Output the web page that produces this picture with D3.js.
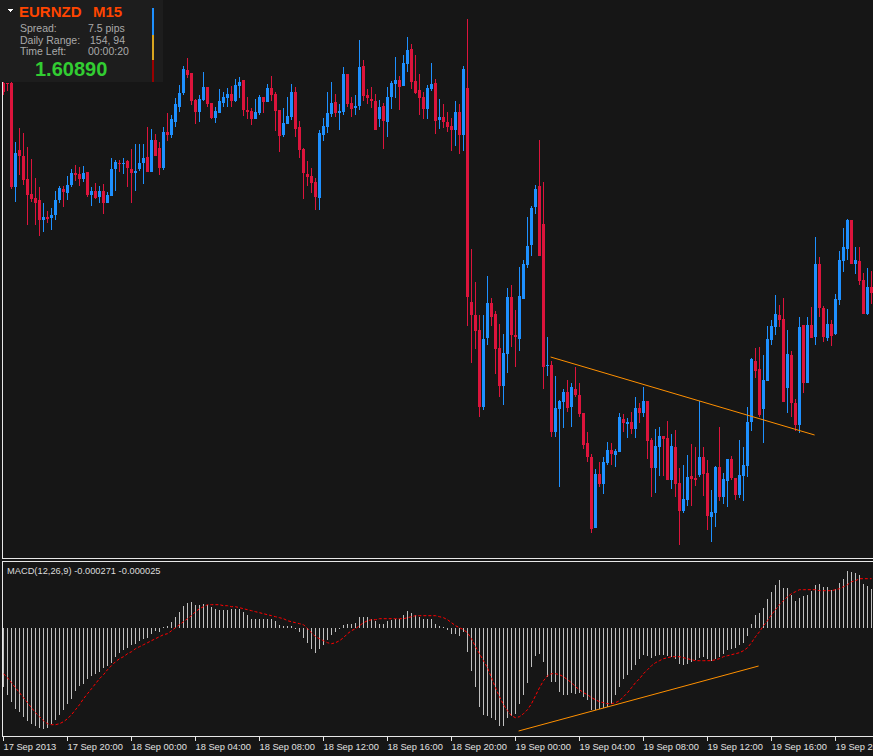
<!DOCTYPE html>
<html><head><meta charset="utf-8">
<script src="https://cdn.jsdelivr.net/npm/d3@7"></script>
<style>html,body{margin:0;padding:0;background:#161616;overflow:hidden}</style>
</head><body>
<svg id="chart" width="873" height="756"></svg>
<script>
const openP = [1.61730,1.61730,1.61730,1.61314,1.61462,1.61438,1.61346,1.61286,1.61270,1.61262,
1.61182,1.61194,1.61190,1.61202,1.61262,1.61306,1.61290,1.61322,1.61370,1.61366,
1.61346,1.61374,1.61282,1.61298,1.61274,1.61298,1.61250,1.61278,1.61386,1.61410,
1.61406,1.61418,1.61386,1.61370,1.61386,1.61410,1.61434,1.61374,1.61502,1.61470,
1.61390,1.61534,1.61522,1.61574,1.61634,1.61690,1.61782,1.61770,1.61662,1.61614,
1.61662,1.61714,1.61650,1.61590,1.61610,1.61650,1.61670,1.61686,1.61658,1.61718,
1.61742,1.61622,1.61618,1.61586,1.61610,1.61674,1.61654,1.61710,1.61686,1.61622,
1.61522,1.61566,1.61594,1.61694,1.61554,1.61466,1.61366,1.61358,1.61334,1.61270,
1.61522,1.61554,1.61606,1.61654,1.61610,1.61614,1.61766,1.61650,1.61630,1.61638,
1.61798,1.61682,1.61666,1.61658,1.61586,1.61638,1.61574,1.61674,1.61726,1.61742,
1.61718,1.61806,1.61866,1.61738,1.61702,1.61674,1.61626,1.61706,1.61730,1.61582,
1.61594,1.61574,1.61558,1.61542,1.61614,1.61522,1.61710,1.60854,1.60802,1.60742,
1.60434,1.60710,1.60850,1.60806,1.60670,1.60518,1.60646,1.60874,1.60722,1.60706,
1.60866,1.61002,1.61082,1.61234,1.61318,1.61166,1.60598,1.60602,1.60334,1.60426,
1.60454,1.60494,1.60434,1.60506,1.60482,1.60410,1.60290,1.60234,1.59950,1.60166,
1.60126,1.60210,1.60262,1.60242,1.60254,1.60386,1.60366,1.60374,1.60346,1.60430,
1.60410,1.60458,1.60302,1.60190,1.60274,1.60318,1.60310,1.60142,1.60274,1.60130,
1.60018,1.60062,1.60158,1.60150,1.60162,1.60234,1.60170,1.59994,1.60010,1.60194,
1.60074,1.60138,1.60226,1.60150,1.60082,1.60158,1.60198,1.60374,1.60618,1.60586,
1.60426,1.60538,1.60702,1.60754,1.60802,1.60786,1.60510,1.60642,1.60450,1.60362,
1.60762,1.60530,1.60762,1.60714,1.61006,1.60830,1.60710,1.60766,1.60726,1.60862,
1.61018,1.61066,1.61182,1.61006,1.61018,1.60942,1.60806,1.60914];
const highP = [1.61750,1.61730,1.61734,1.61494,1.61550,1.61530,1.61474,1.61426,1.61350,1.61314,
1.61250,1.61218,1.61230,1.61298,1.61318,1.61318,1.61358,1.61386,1.61402,1.61394,
1.61398,1.61374,1.61314,1.61330,1.61318,1.61326,1.61294,1.61430,1.61422,1.61422,
1.61430,1.61422,1.61466,1.61486,1.61486,1.61486,1.61554,1.61546,1.61526,1.61494,
1.61554,1.61610,1.61602,1.61670,1.61722,1.61798,1.61830,1.61770,1.61666,1.61682,
1.61774,1.61714,1.61650,1.61634,1.61706,1.61694,1.61710,1.61718,1.61746,1.61754,
1.61742,1.61674,1.61630,1.61666,1.61682,1.61674,1.61726,1.61758,1.61694,1.61622,
1.61630,1.61674,1.61726,1.61714,1.61578,1.61470,1.61418,1.61390,1.61350,1.61542,
1.61590,1.61694,1.61734,1.61686,1.61646,1.61794,1.61766,1.61674,1.61682,1.61902,
1.61822,1.61706,1.61714,1.61686,1.61662,1.61650,1.61714,1.61738,1.61834,1.61758,
1.61842,1.61914,1.61886,1.61842,1.61766,1.61694,1.61722,1.61810,1.61746,1.61666,
1.61646,1.61614,1.61590,1.61658,1.61646,1.61798,1.61986,1.61066,1.60934,1.60802,
1.60802,1.60958,1.60870,1.60818,1.60766,1.60726,1.60910,1.60922,1.60822,1.60994,
1.61022,1.61194,1.61238,1.61322,1.61502,1.61334,1.60714,1.60618,1.60558,1.60462,
1.60506,1.60542,1.60530,1.60594,1.60530,1.60410,1.60334,1.60246,1.60186,1.60214,
1.60234,1.60294,1.60290,1.60266,1.60410,1.60406,1.60390,1.60414,1.60474,1.60450,
1.60514,1.60458,1.60310,1.60346,1.60354,1.60318,1.60378,1.60326,1.60342,1.60190,
1.60202,1.60242,1.60286,1.60274,1.60458,1.60274,1.60222,1.60102,1.60198,1.60354,
1.60170,1.60226,1.60238,1.60150,1.60302,1.60274,1.60434,1.60630,1.60670,1.60674,
1.60642,1.60758,1.60782,1.60882,1.60842,1.60870,1.60742,1.60658,1.60466,1.60794,
1.60762,1.60794,1.60834,1.61114,1.61034,1.60838,1.60826,1.60782,1.60886,1.61058,
1.61150,1.61186,1.61182,1.61074,1.61074,1.60970,1.60990,1.60978];
const lowP = [1.61682,1.61698,1.61306,1.61254,1.61362,1.61322,1.61162,1.61254,1.61162,1.61118,
1.61134,1.61170,1.61142,1.61182,1.61250,1.61234,1.61262,1.61314,1.61338,1.61318,
1.61334,1.61274,1.61238,1.61266,1.61250,1.61206,1.61250,1.61278,1.61298,1.61374,
1.61366,1.61314,1.61250,1.61298,1.61378,1.61326,1.61374,1.61374,1.61438,1.61362,
1.61382,1.61498,1.61510,1.61554,1.61614,1.61682,1.61750,1.61642,1.61566,1.61574,
1.61658,1.61634,1.61586,1.61570,1.61610,1.61634,1.61634,1.61634,1.61654,1.61670,
1.61598,1.61586,1.61562,1.61586,1.61602,1.61610,1.61654,1.61658,1.61538,1.61454,
1.61514,1.61566,1.61582,1.61514,1.61430,1.61266,1.61318,1.61290,1.61222,1.61222,
1.61498,1.61530,1.61594,1.61594,1.61542,1.61602,1.61634,1.61594,1.61602,1.61622,
1.61658,1.61646,1.61630,1.61542,1.61554,1.61466,1.61514,1.61626,1.61670,1.61622,
1.61718,1.61774,1.61706,1.61686,1.61602,1.61586,1.61586,1.61698,1.61526,1.61546,
1.61550,1.61534,1.61458,1.61478,1.61446,1.61458,1.60758,1.60610,1.60666,1.60394,
1.60422,1.60682,1.60758,1.60566,1.60474,1.60442,1.60570,1.60674,1.60594,1.60658,
1.60866,1.60990,1.61038,1.61206,1.61038,1.60506,1.60558,1.60314,1.60314,1.60114,
1.60350,1.60414,1.60354,1.60474,1.60394,1.60266,1.60214,1.59930,1.59950,1.60114,
1.60086,1.60202,1.60202,1.60194,1.60254,1.60334,1.60310,1.60326,1.60310,1.60370,
1.60394,1.60226,1.60074,1.60090,1.60158,1.60158,1.60142,1.60106,1.60074,1.59882,
1.60010,1.60038,1.60038,1.60118,1.60154,1.60078,1.59942,1.59894,1.59954,1.60058,
1.60046,1.60034,1.60142,1.60062,1.60070,1.60058,1.60154,1.60338,1.60550,1.60394,
1.60290,1.60538,1.60682,1.60722,1.60754,1.60454,1.60410,1.60394,1.60338,1.60330,
1.60490,1.60530,1.60710,1.60682,1.60794,1.60694,1.60698,1.60678,1.60722,1.60842,
1.60974,1.61022,1.61006,1.60966,1.60922,1.60806,1.60802,1.60846];
const closeP = [1.61694,1.61726,1.61314,1.61450,1.61438,1.61342,1.61282,1.61266,1.61250,1.61182,
1.61194,1.61186,1.61202,1.61262,1.61310,1.61294,1.61322,1.61370,1.61362,1.61346,
1.61370,1.61282,1.61298,1.61270,1.61298,1.61250,1.61282,1.61386,1.61414,1.61406,
1.61410,1.61390,1.61370,1.61378,1.61410,1.61430,1.61374,1.61502,1.61438,1.61390,
1.61534,1.61522,1.61586,1.61646,1.61690,1.61786,1.61762,1.61658,1.61614,1.61666,
1.61714,1.61646,1.61590,1.61618,1.61658,1.61674,1.61686,1.61658,1.61722,1.61734,
1.61622,1.61614,1.61586,1.61614,1.61674,1.61654,1.61710,1.61682,1.61618,1.61518,
1.61570,1.61598,1.61694,1.61546,1.61462,1.61370,1.61354,1.61330,1.61274,1.61530,
1.61558,1.61610,1.61650,1.61610,1.61618,1.61766,1.61646,1.61626,1.61638,1.61794,
1.61678,1.61670,1.61658,1.61542,1.61634,1.61578,1.61674,1.61730,1.61742,1.61714,
1.61810,1.61862,1.61734,1.61690,1.61670,1.61626,1.61710,1.61726,1.61578,1.61594,
1.61574,1.61554,1.61542,1.61614,1.61522,1.61786,1.60874,1.60802,1.60738,1.60434,
1.60706,1.60850,1.60794,1.60666,1.60518,1.60650,1.60874,1.60722,1.60714,1.60878,
1.61006,1.61078,1.61230,1.61306,1.61038,1.60594,1.60602,1.60334,1.60430,1.60458,
1.60494,1.60430,1.60514,1.60482,1.60406,1.60282,1.60234,1.59946,1.60166,1.60126,
1.60214,1.60262,1.60246,1.60258,1.60394,1.60370,1.60374,1.60346,1.60430,1.60410,
1.60458,1.60298,1.60190,1.60278,1.60318,1.60306,1.60142,1.60278,1.60126,1.60018,
1.60066,1.60154,1.60146,1.60142,1.60234,1.60166,1.59998,1.60014,1.60194,1.60074,
1.60146,1.60226,1.60150,1.60082,1.60162,1.60202,1.60374,1.60626,1.60578,1.60402,
1.60542,1.60706,1.60758,1.60806,1.60782,1.60454,1.60646,1.60450,1.60362,1.60754,
1.60530,1.60762,1.60710,1.61006,1.60830,1.60714,1.60766,1.60718,1.60866,1.61022,
1.61074,1.61182,1.61006,1.61022,1.60938,1.60806,1.60914,1.60890];

const macdMain = [-0.00118,-0.00134,-0.00148,-0.00162,-0.00168,-0.00178,-0.00186,-0.00192,-0.00196,-0.00200,
-0.00202,-0.00200,-0.00192,-0.00184,-0.00174,-0.00164,-0.00152,-0.00142,-0.00126,-0.00116,
-0.00112,-0.00102,-0.00096,-0.00092,-0.00088,-0.00080,-0.00076,-0.00070,-0.00058,-0.00050,
-0.00044,-0.00040,-0.00034,-0.00032,-0.00026,-0.00022,-0.00020,-0.00012,-0.00006,-0.00008,
0.00002,0.00004,0.00012,0.00022,0.00032,0.00044,0.00050,0.00052,0.00046,0.00046,
0.00048,0.00046,0.00042,0.00038,0.00036,0.00036,0.00036,0.00038,0.00038,0.00038,
0.00032,0.00026,0.00018,0.00018,0.00018,0.00018,0.00018,0.00018,0.00014,0.00006,
0.00004,0.00004,0.00004,-0.00002,-0.00008,-0.00020,-0.00030,-0.00042,-0.00050,-0.00042,
-0.00034,-0.00024,-0.00014,-0.00008,-0.00002,0.00006,0.00008,0.00008,0.00010,0.00022,
0.00022,0.00022,0.00018,0.00014,0.00008,0.00008,0.00014,0.00016,0.00018,0.00018,
0.00026,0.00034,0.00030,0.00026,0.00022,0.00018,0.00018,0.00018,0.00008,0.00004,
0.00002,-0.00004,-0.00012,-0.00012,-0.00016,-0.00008,-0.00048,-0.00086,-0.00118,-0.00158,
-0.00174,-0.00176,-0.00180,-0.00184,-0.00196,-0.00196,-0.00180,-0.00176,-0.00172,-0.00152,
-0.00134,-0.00110,-0.00078,-0.00056,-0.00052,-0.00068,-0.00098,-0.00108,-0.00108,-0.00128,
-0.00134,-0.00134,-0.00130,-0.00132,-0.00130,-0.00138,-0.00144,-0.00164,-0.00164,-0.00162,
-0.00160,-0.00158,-0.00152,-0.00134,-0.00118,-0.00102,-0.00094,-0.00084,-0.00074,-0.00062,
-0.00054,-0.00056,-0.00060,-0.00056,-0.00054,-0.00054,-0.00056,-0.00058,-0.00062,-0.00072,
-0.00074,-0.00072,-0.00068,-0.00064,-0.00060,-0.00058,-0.00062,-0.00066,-0.00062,-0.00058,
-0.00052,-0.00044,-0.00042,-0.00040,-0.00034,-0.00030,-0.00016,0.00008,0.00026,0.00030,
0.00040,0.00058,0.00072,0.00086,0.00096,0.00080,0.00080,0.00066,0.00054,0.00060,
0.00064,0.00066,0.00074,0.00086,0.00088,0.00082,0.00082,0.00076,0.00078,0.00090,
0.00098,0.00114,0.00112,0.00110,0.00106,0.00088,0.00084,0.00078];
const macdSignal = [-0.00092,-0.00100,-0.00110,-0.00120,-0.00130,-0.00140,-0.00150,-0.00160,-0.00170,-0.00178,
-0.00186,-0.00192,-0.00194,-0.00194,-0.00192,-0.00188,-0.00182,-0.00174,-0.00164,-0.00154,
-0.00142,-0.00132,-0.00122,-0.00112,-0.00102,-0.00094,-0.00084,-0.00076,-0.00068,-0.00062,
-0.00058,-0.00052,-0.00048,-0.00042,-0.00038,-0.00034,-0.00030,-0.00026,-0.00022,-0.00018,
-0.00014,-0.00012,-0.00006,0.00000,0.00006,0.00012,0.00018,0.00024,0.00032,0.00038,
0.00042,0.00046,0.00046,0.00046,0.00046,0.00044,0.00044,0.00042,0.00042,0.00040,
0.00038,0.00036,0.00034,0.00032,0.00030,0.00028,0.00026,0.00024,0.00022,0.00020,
0.00018,0.00014,0.00012,0.00010,0.00008,0.00006,-0.00002,-0.00010,-0.00018,-0.00022,
-0.00026,-0.00030,-0.00032,-0.00030,-0.00026,-0.00020,-0.00012,-0.00006,-0.00002,0.00004,
0.00010,0.00014,0.00016,0.00016,0.00018,0.00018,0.00018,0.00018,0.00018,0.00018,
0.00018,0.00020,0.00022,0.00024,0.00024,0.00024,0.00024,0.00024,0.00024,0.00022,
0.00020,0.00016,0.00010,0.00004,0.00000,-0.00004,-0.00010,-0.00022,-0.00038,-0.00052,
-0.00066,-0.00080,-0.00100,-0.00120,-0.00138,-0.00154,-0.00166,-0.00176,-0.00180,-0.00178,
-0.00172,-0.00164,-0.00152,-0.00136,-0.00120,-0.00106,-0.00096,-0.00092,-0.00092,-0.00094,
-0.00098,-0.00104,-0.00110,-0.00118,-0.00124,-0.00130,-0.00134,-0.00140,-0.00144,-0.00148,
-0.00150,-0.00152,-0.00152,-0.00150,-0.00146,-0.00138,-0.00130,-0.00120,-0.00110,-0.00102,
-0.00092,-0.00084,-0.00076,-0.00070,-0.00066,-0.00062,-0.00060,-0.00058,-0.00058,-0.00058,
-0.00060,-0.00062,-0.00064,-0.00066,-0.00066,-0.00066,-0.00066,-0.00066,-0.00064,-0.00062,
-0.00058,-0.00056,-0.00054,-0.00052,-0.00050,-0.00046,-0.00040,-0.00030,-0.00018,-0.00008,
0.00004,0.00014,0.00026,0.00036,0.00046,0.00054,0.00062,0.00068,0.00072,0.00076,
0.00076,0.00076,0.00076,0.00076,0.00074,0.00074,0.00074,0.00074,0.00076,0.00078,
0.00082,0.00086,0.00092,0.00094,0.00098,0.00098,0.00098,0.00098];

const tickIndex = [0,16,32,48,64,80,96,112,128,144,160,176,192,208];
const tickLabels = ["17 Sep 2013","17 Sep 20:00","18 Sep 00:00","18 Sep 04:00","18 Sep 08:00",
  "18 Sep 12:00","18 Sep 16:00","18 Sep 20:00","19 Sep 00:00","19 Sep 04:00","19 Sep 08:00",
  "19 Sep 12:00","19 Sep 16:00","19 Sep 20:00"];
const priceTrend = [[136.9, 1.60634], [202.9, 1.60322]];
const macdTrend = [[128.9, -0.002066], [188.9, -0.000766]];
const symbolText = "EURNZD", periodText = "M15";
const infoLabels = ["Spread:", "Daily Range:", "Time Left:"];
const infoValues = ["7.5 pips", "154, 94", "00:00:20"];
const bidText = "1.60890";
const macdTitle = "MACD(12,26,9) -0.000271 -0.000025";

const W = 873, H = 756;
const BULL = "#1E90FF", BEAR = "#DC143C", BG = "#161616";
const FONT = "'Liberation Sans', Arial, sans-serif";
const n = openP.length;
const idx = d3.range(n);

const svg = d3.select("#chart").attr("shape-rendering", "crispEdges");
svg.append("rect").attr("width", W).attr("height", H).attr("fill", BG);

const x = d3.scaleLinear().domain([0, n - 1]).range([3, 3 + 4 * (n - 1)]);
const y = d3.scaleLinear().domain([1.59826, 1.62062]).range([559, 0]);
const ym = d3.scaleLinear().domain([-0.002186, 0.001334]).range([737, 561]);

const defs = svg.append("defs");
defs.append("clipPath").attr("id", "cMain").append("rect").attr("x", 3).attr("y", 0).attr("width", W).attr("height", 558);
defs.append("clipPath").attr("id", "cMacd").append("rect").attr("x", 3).attr("y", 562).attr("width", W).attr("height", 174);

// Candles
const gC = svg.append("g").attr("clip-path", "url(#cMain)");
const col = i => closeP[i] >= openP[i] ? BULL : BEAR;
gC.selectAll("rect.wick").data(idx).join("rect").attr("class", "wick")
  .attr("x", i => x(i)).attr("width", 1)
  .attr("y", i => Math.round(y(highP[i])))
  .attr("height", i => Math.max(1, Math.round(y(lowP[i])) - Math.round(y(highP[i]))))
  .attr("fill", col);
gC.selectAll("rect.body").data(idx).join("rect").attr("class", "body")
  .attr("x", i => x(i) - 1).attr("width", 3)
  .attr("y", i => Math.round(y(Math.max(openP[i], closeP[i]))))
  .attr("height", i => Math.max(1, Math.round(y(Math.min(openP[i], closeP[i]))) - Math.round(y(Math.max(openP[i], closeP[i])))))
  .attr("fill", col);

// price trend line
gC.append("path").datum(priceTrend)
  .attr("d", d3.line().x(d => x(d[0])).y(d => y(d[1])))
  .attr("stroke", "#FF9000").attr("stroke-width", 1).attr("fill", "none")
  .attr("shape-rendering", "auto");

// MACD
const gM = svg.append("g").attr("clip-path", "url(#cMacd)");
gM.selectAll("rect.h").data(idx).join("rect").attr("class", "h")
  .attr("x", i => x(i)).attr("width", 1)
  .attr("y", i => Math.round(Math.min(ym(macdMain[i]), ym(0))))
  .attr("height", i => Math.max(1, Math.round(Math.abs(ym(macdMain[i]) - ym(0)))))
  .attr("fill", "#C0C0C0");
gM.append("path").datum(idx)
  .attr("d", d3.line().x(i => x(i) + 0.5).y(i => ym(macdSignal[i])))
  .attr("stroke", "#FF0000").attr("stroke-width", 1).attr("stroke-dasharray", "3,2")
  .attr("fill", "none").attr("shape-rendering", "auto");
gM.append("path").datum(macdTrend)
  .attr("d", d3.line().x(d => x(d[0])).y(d => ym(d[1])))
  .attr("stroke", "#FF9000").attr("stroke-width", 1).attr("fill", "none")
  .attr("shape-rendering", "auto");

// Borders
const bc = "#E8E8E8";
svg.append("line").attr("x1", 2.5).attr("x2", 2.5).attr("y1", 0).attr("y2", 559).attr("stroke", bc);
svg.append("line").attr("x1", 2).attr("x2", W).attr("y1", 558.5).attr("y2", 558.5).attr("stroke", bc);
svg.append("line").attr("x1", 2.5).attr("x2", 2.5).attr("y1", 561).attr("y2", 737).attr("stroke", bc);
svg.append("line").attr("x1", 2).attr("x2", W).attr("y1", 561.5).attr("y2", 561.5).attr("stroke", bc);
svg.append("line").attr("x1", 2).attr("x2", W).attr("y1", 736.5).attr("y2", 736.5).attr("stroke", bc);

svg.append("text").attr("x", 7).attr("y", 573.5).attr("fill", "#DCDCDC")
  .style("font", "9.3px " + FONT).attr("shape-rendering", "auto").text(macdTitle);

// Time axis
const axis = d3.axisBottom(x).tickValues(tickIndex).tickFormat((d, k) => tickLabels[k]).tickSize(4);
const gA = svg.append("g").attr("transform", "translate(0,737)").call(axis);
gA.select(".domain").remove();
gA.selectAll(".tick line").attr("stroke", bc);
gA.selectAll(".tick text").attr("text-anchor", "start").attr("x", 0).attr("y", 12.5).attr("dy", null)
  .attr("fill", "#E0E0E0").style("font", "9.3px " + FONT);

// Info box
const gI = svg.append("g");
gI.append("rect").attr("x", 0).attr("y", 0).attr("width", 163).attr("height", 82).attr("fill", "#1D1D1D");
gI.append("path").attr("d", "M7,9L13,9L10,12Z").attr("fill", "#FFFFFF");
gI.append("text").attr("x", 19).attr("y", 17).attr("fill", "#FF4500")
  .style("font", "bold 15px " + FONT).text(symbolText);
gI.append("text").attr("x", 93).attr("y", 17).attr("fill", "#FF4500")
  .style("font", "bold 15px " + FONT).text(periodText);
const rowsY = [31.5, 43.5, 55];
const valX = [88, 90, 88];
infoLabels.forEach((t, k) => {
  gI.append("text").attr("x", 20).attr("y", rowsY[k]).attr("fill", "#A9A9A9").style("font", "10.5px " + FONT).text(t);
  gI.append("text").attr("x", valX[k]).attr("y", rowsY[k]).attr("fill", "#A9A9A9").style("font", "10.5px " + FONT).text(infoValues[k]);
});
gI.append("text").attr("x", 35).attr("y", 75.5).attr("fill", "#32CD32")
  .style("font", "bold 20px " + FONT).text(bidText);
const barSegs = [[8, 35, "#1E90FF"], [35, 60, "#DAA520"], [60, 82, "#9A0000"]];
gI.selectAll("rect.seg").data(barSegs).join("rect").attr("class", "seg")
  .attr("x", 152).attr("width", 2).attr("y", d => d[0]).attr("height", d => d[1] - d[0]).attr("fill", d => d[2]);
</script>
</body></html>
